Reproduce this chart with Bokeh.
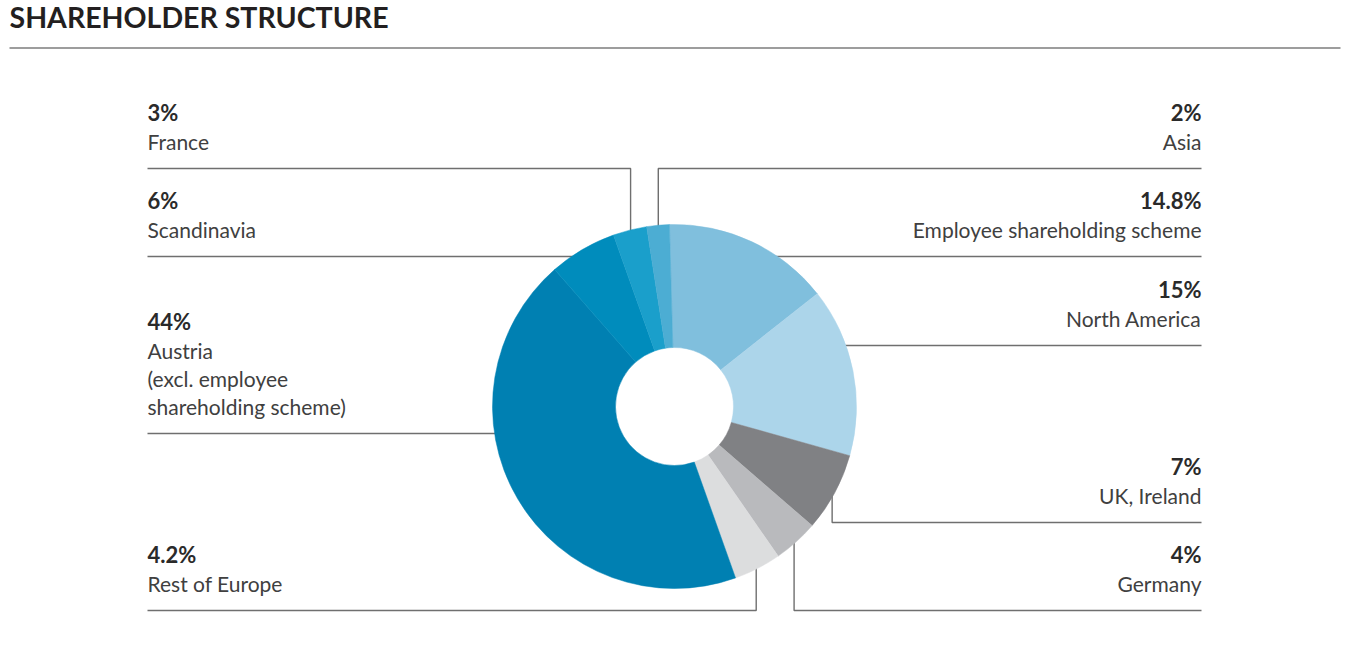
import math
from bokeh.plotting import figure
from bokeh.models import ColumnDataSource, Range1d
from bokeh.core.properties import value
from bokeh.embed import file_html
from bokeh.resources import INLINE

# ---- data (clockwise from 12 o'clock) ----
categories = ["Employee shareholding scheme", "North America", "UK, Ireland", "Germany",
              "Rest of Europe", "Austria\n(excl. employee\nshareholding scheme)",
              "Scandinavia", "France", "Asia"]
shares = [14.8, 15, 7, 4, 4.2, 44, 6, 3, 2]
share_labels = ["14.8%", "15%", "7%", "4%", "4.2%", "44%", "6%", "3%", "2%"]
colors = ["#80bfdd", "#acd5ea", "#808184", "#b9babd", "#dcddde",
          "#0080b2", "#008cbc", "#1a9fcb", "#4cadd3"]
title_text = "SHAREHOLDER STRUCTURE"

# ---- layout (styles / positions) ----
side = ["right", "right", "right", "right", "left", "left", "left", "left", "right"]
row_line_y = [256, 345, 522, 610, 610, 433, 256, 168, 168]   # screen px
leader = ["straight", "straight", "elbow", "elbow", "elbow", "straight", "straight", "elbow", "elbow"]

W, H = 1342, 646
SCREEN_H = 654
def sy(s):  # screen y -> data y
    return SCREEN_H - s

cx, cy = 674, sy(406)
R_OUT, R_IN = 182, 59
START = 91.6  # degrees, ccw from +x

LEFT_X, RIGHT_X = 147, 1201
LINE_COL = "#6f6f6f"
TITLE_FS, PCT_FS, NAME_FS = 28.5, 22, 21
TITLE_CORR = 0.46  # empirical baseline correction (fraction of font size)
LABEL_CORR = 0.39

p = figure(width=W, height=H, x_range=Range1d(0, W), y_range=Range1d(SCREEN_H - H, SCREEN_H),
           x_axis_type=None, y_axis_type=None, toolbar_location=None, output_backend="svg",
           min_border=0, outline_line_color=None, background_fill_color="white")
p.grid.visible = False

# title and rule
p.text(x=[9], y=[sy(30 - TITLE_CORR * TITLE_FS)], text=[title_text], text_font=value("Lato"),
       text_font_style="bold", text_font_size=f"{TITLE_FS}px", text_color="#231f20",
       text_baseline="alphabetic", text_align="left")
p.line(x=[9, 1340], y=[sy(47.5), sy(47.5)], line_color="#9d9d9d", line_width=2)

total = sum(shares)
starts, ends, mids = [], [], []
cum = 0.0
for s in shares:
    a0 = START - cum / total * 360
    cum += s
    a1 = START - cum / total * 360
    starts.append(math.radians(a0))
    ends.append(math.radians(a1))
    mids.append(math.radians((a0 + a1) / 2))

# leader lines
xs, ys = [], []
for i in range(len(shares)):
    ry = sy(row_line_y[i])
    x0 = LEFT_X if side[i] == "left" else RIGHT_X
    if leader[i] == "straight":
        dy = ry - cy
        dx = math.sqrt(max((R_OUT - 6) ** 2 - dy ** 2, 0))
        xe = cx - dx if side[i] == "left" else cx + dx
        xs.append([x0, xe]); ys.append([ry, ry])
    else:
        mx = cx + (R_OUT - 3) * math.cos(mids[i])
        my = cy + (R_OUT - 3) * math.sin(mids[i])
        xs.append([x0, mx, mx]); ys.append([ry, ry, my])
p.multi_line(xs=xs, ys=ys, line_color=LINE_COL, line_width=1.4)

# donut
src = ColumnDataSource(dict(start=starts, end=ends, color=colors, cat=categories))
p.annular_wedge(x=cx, y=cy, inner_radius=R_IN, outer_radius=R_OUT, start_angle="start",
                end_angle="end", direction="clock", fill_color="color", line_color="color",
                line_width=0.5, source=src)

# labels
px, py, pt, pa = [], [], [], []
nx, ny, nt, na = [], [], [], []
for i in range(len(shares)):
    lines = categories[i].split("\n")
    x0 = LEFT_X if side[i] == "left" else RIGHT_X
    al = "left" if side[i] == "left" else "right"
    last_base = row_line_y[i] - 19
    first_base = last_base - 28 * (len(lines) - 1)
    for k, ln in enumerate(lines):
        nx.append(x0); ny.append(sy(first_base + 28 * k - LABEL_CORR * NAME_FS)); nt.append(ln); na.append(al)
    px.append(x0); py.append(sy(first_base - 28 - LABEL_CORR * PCT_FS)); pt.append(share_labels[i]); pa.append(al)

p.text(x="x", y="y", text="t", text_align="a",
       source=ColumnDataSource(dict(x=px, y=py, t=pt, a=pa)),
       text_font=value("Lato"), text_font_style="bold", text_font_size=f"{PCT_FS}px",
       text_color="#2a2a2a", text_baseline="alphabetic")
p.text(x="x", y="y", text="t", text_align="a",
       source=ColumnDataSource(dict(x=nx, y=ny, t=nt, a=na)),
       text_font=value("Lato"), text_font_size=f"{NAME_FS}px",
       text_color="#404040", text_baseline="alphabetic")

open("out.html", "w").write(file_html(p, INLINE))
